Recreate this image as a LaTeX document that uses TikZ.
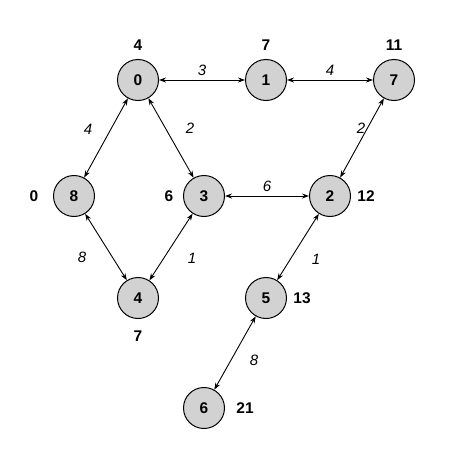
\documentclass[tikz,border=0pt]{standalone}
\usepackage{fontspec}
\setmainfont{Liberation Sans}
\usetikzlibrary{arrows.meta}
\begin{document}
\begin{tikzpicture}[x=1pt,y=-1pt,
  vnode/.style={circle,draw=black,line width=1pt,fill=gray!35,minimum size=41pt,inner sep=0pt,font=\fontsize{15.5}{17}\selectfont\bfseries},
  dist/.style={font=\fontsize{15.5}{17}\selectfont\bfseries},
  wt/.style={font=\fontsize{15}{17}\selectfont\itshape},
  edge/.style={{Stealth[length=7pt,width=5pt]}-{Stealth[length=7pt,width=5pt]},line width=0.9pt}]
\useasboundingbox (0,0) rectangle (474,474);
\node[vnode] (n0) at (138,80) {0};
\node[vnode] (n1) at (266,80) {1};
\node[vnode] (n7) at (394,80) {7};
\node[vnode] (n8) at (74,196) {8};
\node[vnode] (n3) at (204,196) {3};
\node[vnode] (n2) at (330,196) {2};
\node[vnode] (n4) at (138,298) {4};
\node[vnode] (n5) at (266,298) {5};
\node[vnode] (n6) at (204,408) {6};
\node[dist] (d0) at (138,45) {4};
\node[dist] (d1) at (266,45) {7};
\node[dist] (d7) at (394,45) {11};
\node[dist] (d8) at (34,196) {0};
\node[dist] (d3) at (169,196) {6};
\node[dist] (d2) at (366,196) {12};
\node[dist] (d4) at (138,336) {7};
\node[dist] (d5) at (302,298) {13};
\node[dist] (d6) at (245,408) {21};
\draw[edge] (n0) -- node[wt,pos=0.5,above=1pt] {3} (n1);
\draw[edge] (n1) -- node[wt,pos=0.5,above=1pt] {4} (n7);
\draw[edge] (n0) -- (n8);
\node[wt] (w08) at (88,129) {4};
\draw[edge] (n0) -- (n3);
\node[wt] (w03) at (190,128) {2};
\draw[edge] (n3) -- node[wt,pos=0.5,above=1pt] {6} (n2);
\draw[edge] (n7) -- (n2);
\node[wt] (w72) at (361,128) {2};
\draw[edge] (n8) -- (n4);
\node[wt] (w84) at (82,257) {8};
\draw[edge] (n4) -- (n3);
\node[wt] (w43) at (192,258) {1};
\draw[edge] (n2) -- (n5);
\node[wt] (w25) at (316,259) {1};
\draw[edge] (n5) -- (n6);
\node[wt] (w56) at (254,360) {8};
\end{tikzpicture}
\end{document}
